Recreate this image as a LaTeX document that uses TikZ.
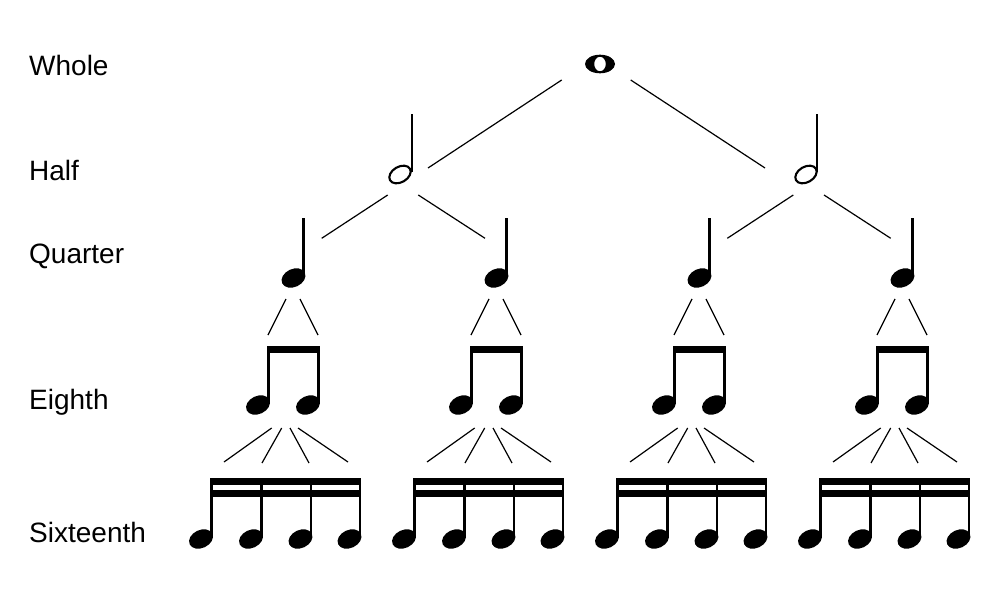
\documentclass[tikz,border=0pt]{standalone}
\usepackage{fontspec}
\setmainfont{Liberation Sans}
\usetikzlibrary{shapes.geometric}
\begin{document}
\begin{tikzpicture}[x=1pt,y=-1pt,
  lbl/.style={anchor=base west,font=\fontsize{28}{34}\selectfont,inner sep=0pt},
  fhead/.style={ellipse,fill=black,minimum width=25pt,minimum height=18pt,inner sep=0pt,rotate=25},
  ohead/.style={ellipse,draw=black,line width=2.1pt,minimum width=23pt,minimum height=15.5pt,inner sep=0pt,rotate=30},
  stem/.style={line width=2.4pt},
  hstem/.style={line width=2pt},
  beam/.style={fill=black},
  link/.style={line width=1.2pt},
]
\useasboundingbox[fill=white] (0,0) rectangle (1000,602);

% labels
\node[lbl] (lw) at (29,75) {Whole};
\node[lbl] (lh) at (29,180) {Half};
\node[lbl] (lq) at (29,263) {Quarter};
\node[lbl] (le) at (29,409) {Eighth};
\node[lbl] (ls) at (29,542) {Sixteenth};

% whole note
\coordinate (whole) at (600,64);
\fill[even odd rule] (whole) ellipse [x radius=15, y radius=9.3]
  (whole) ellipse [x radius=5.8, y radius=7.3];

% half notes
\node[ohead] (h1) at (400,174.5) {};
\draw[hstem] (411.7,172) -- (411.7,114);
\node[ohead] (h2) at (806,174.5) {};
\draw[hstem] (817.3,172) -- (817.3,114);

% whole -> half connectors
\coordinate (wl) at (561.7,80);
\coordinate (wr) at (630.7,80);
\coordinate (h1t) at (428,168);
\coordinate (h2t) at (765,168);
\draw[link] (wl) -- (h1t);
\draw[link] (wr) -- (h2t);

% half -> quarter connectors
\coordinate (h1a) at (387.7,195);
\coordinate (h1b) at (418.3,195);
\coordinate (h2a) at (793.3,195);
\coordinate (h2b) at (824,195);
\coordinate (qt0) at (321.7,238.3);
\coordinate (qt1) at (485,238.3);
\coordinate (qt2) at (727.3,238.3);
\coordinate (qt3) at (890.7,238.3);
\draw[link] (h1a) -- (qt0);
\draw[link] (h1b) -- (qt1);
\draw[link] (h2a) -- (qt2);
\draw[link] (h2b) -- (qt3);

\foreach \k in {0,1,2,3} {
  \pgfmathsetmacro{\o}{203*\k}
  % quarter
  \node[fhead] (q\k) at (293.5+\o,278) {};
  \draw[stem] (303.5+\o,276) -- (303.5+\o,218);
  % quarter -> eighth connectors
  \coordinate (qa\k) at (286+\o,299);
  \coordinate (qb\k) at (300+\o,299);
  \coordinate (ea\k) at (268+\o,335);
  \coordinate (eb\k) at (318+\o,335);
  \draw[link] (qa\k) -- (ea\k);
  \draw[link] (qb\k) -- (eb\k);
  % eighth pair
  \node[fhead] (e\k a) at (258+\o,405) {};
  \node[fhead] (e\k b) at (308+\o,405) {};
  \draw[stem] (268.5+\o,403) -- (268.5+\o,349);
  \draw[stem] (318.5+\o,403) -- (318.5+\o,349);
  \fill[beam] (267.3+\o,346) rectangle (319.7+\o,352.5);
  % eighth -> sixteenth connectors
  \coordinate (ec1\k) at (271.7+\o,428);
  \coordinate (ec2\k) at (281.7+\o,428);
  \coordinate (ec3\k) at (290+\o,428);
  \coordinate (ec4\k) at (298+\o,428);
  \coordinate (sc1\k) at (224+\o,462);
  \coordinate (sc2\k) at (262+\o,463);
  \coordinate (sc3\k) at (309+\o,463);
  \coordinate (sc4\k) at (348+\o,462);
  \draw[link] (ec1\k) -- (sc1\k);
  \draw[link] (ec2\k) -- (sc2\k);
  \draw[link] (ec3\k) -- (sc3\k);
  \draw[link] (ec4\k) -- (sc4\k);
  % sixteenth group
  \node[fhead] (s\k a) at (201+\o,539) {};
  \node[fhead] (s\k b) at (251+\o,539) {};
  \node[fhead] (s\k c) at (300.5+\o,539) {};
  \node[fhead] (s\k d) at (349.5+\o,539) {};
  \draw[stem] (211.5+\o,537) -- (211.5+\o,480);
  \draw[stem] (261.5+\o,537) -- (261.5+\o,480);
  \draw[stem] (311+\o,537) -- (311+\o,480);
  \draw[stem] (360+\o,537) -- (360+\o,480);
  \fill[beam] (210.3+\o,478) rectangle (361.2+\o,485);
  \fill[beam] (210.3+\o,490) rectangle (361.2+\o,497);
}
\end{tikzpicture}
\end{document}
